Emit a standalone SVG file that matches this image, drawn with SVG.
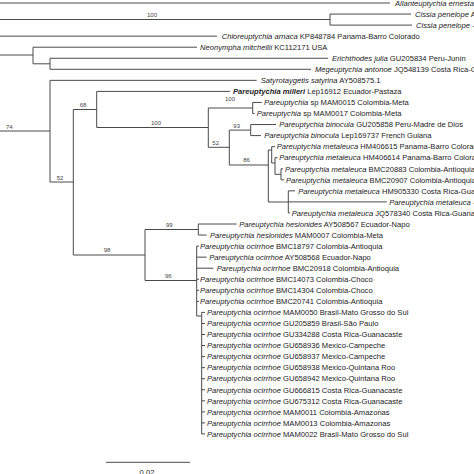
<svg xmlns="http://www.w3.org/2000/svg" width="474" height="474" viewBox="0 0 474 474">
<style>
.b{fill:none;stroke:#4a4a4a;stroke-width:1}
.t{font-family:"Liberation Sans",Arial,sans-serif;font-size:7.6px;fill:#222}
.i{font-style:italic}
.bs{font-family:"Liberation Sans",Arial,sans-serif;font-size:6px;fill:#444;text-anchor:middle}
</style>
<rect width="474" height="474" fill="#fff"/>
<g id="connectors" class="b">
<path d="M0 3H390"/>
<path d="M0 19.5H330M330 14.05V25.1M330 14.05H411M330 25.1H412"/>
<path d="M0 36.15H217"/>
<path d="M0 55H33M33 47.2V63.8M33 47.2H197M33 63.8H50M50 58.25V69.3M50 58.25H328M50 69.3H311"/>
<path d="M0 131H50M50 80.35V182M50 80.35H256.7M50 182H73.3"/>
<path d="M73.3 109.5V255M73.3 109.5H96.7M96.7 91.4V127.5M96.7 91.4H230M96.7 127.5H208.3"/>
<path d="M208.3 108V147.3M208.3 108H252.7M252.7 102.45V113.5M252.7 102.45H261.7M252.7 113.5H254.5"/>
<path d="M208.3 147.3H229.3M229.3 130.1V165M229.3 130.1H250.7M250.7 124.55V135.6M250.7 124.55H276M250.7 135.6H261"/>
<path d="M229.3 165H268.3M268.3 150V202M268.3 150H271.7M271.7 146.65V163M271.7 146.65H275M271.7 163H275M275 157.7V174.3M275 157.7H277.5M275 174.3H281M281 168.75V179.8M281 168.75H283M281 179.8H284"/>
<path d="M268.3 202H288.3M288.3 190.85V212.95M288.3 190.85H295M288.3 201.9H386.7M288.3 212.95H290"/>
<path d="M73.3 255H145M145 229.5V280.5M145 229.5H198.3M198.3 224V235.05M198.3 224H236.7M198.3 235.05H206.7"/>
<path d="M145 280.5H196.7M196.7 246.1V316M196.7 246.1H199M196.7 257.15H206.7M196.7 268.2H213.3M196.7 279.25H199M196.7 290.3H199M196.7 301.35H199M196.7 316H201.7M201.7 312.4V434"/>
<path d="M201.7 312.4H205M201.7 323.45H205M201.7 334.5H205M201.7 345.55H205M201.7 356.6H205M201.7 367.65H205M201.7 378.7H205M201.7 389.75H205M201.7 400.8H205M201.7 411.85H205M201.7 422.9H205M201.7 433.95H205"/>
<path d="M106 462.3H190"/>
</g>
<g id="support">
<text class="bs" x="152" y="16.5">100</text>
<text class="bs" x="9.3" y="128.5">74</text>
<text class="bs" x="83" y="106.5">68</text>
<text class="bs" x="156" y="124.5">100</text>
<text class="bs" x="230" y="100.5">100</text>
<text class="bs" x="236.7" y="127.5">93</text>
<text class="bs" x="215.7" y="144.5">52</text>
<text class="bs" x="246.5" y="162">86</text>
<text class="bs" x="60" y="179.5">52</text>
<text class="bs" x="169.3" y="226.5">99</text>
<text class="bs" x="107" y="251.5">98</text>
<text class="bs" x="168.3" y="278">96</text>
</g>
<g id="n0"><text class="t" x="395" y="5.7"><tspan class="i">Allanteuptychia ernesta</tspan></text></g>
<g id="n1"><text class="t" x="415" y="16.8"><tspan class="i">Cissia penelope</tspan> A</text></g>
<g id="n2"><text class="t" x="416" y="27.8"><tspan class="i">Cissia penelope</tspan> -</text></g>
<g id="n3"><text class="t" x="221.7" y="38.9"><tspan class="i">Chloreuptychia arnaca</tspan> KP848784 Panama-Barro Colorado</text></g>
<g id="n4"><text class="t" x="200" y="49.9"><tspan class="i">Neonympha mitchellii</tspan> KC112171 USA</text></g>
<g id="n5"><text class="t" x="332" y="61"><tspan class="i">Erichthodes julia</tspan> GU205834 Peru-Junín</text></g>
<g id="n6"><text class="t" x="315" y="72"><tspan class="i">Megeuptychia antonoe</tspan> JQ548139 Costa Rica-Guanacaste</text></g>
<g id="n7"><text class="t" x="260.7" y="83.1"><tspan class="i">Satyrotaygetis satyrina</tspan> AY508575.1</text></g>
<g id="n8"><text class="t" x="233" y="94.1"><tspan class="i" font-weight="bold">Pareuptychia milleri</tspan> Lep16912 Ecuador-Pastaza</text></g>
<g id="n9"><text class="t" x="264" y="105.2"><tspan class="i">Pareuptychia</tspan> sp MAM0015 Colombia-Meta</text></g>
<g id="n10"><text class="t" x="256.7" y="116.2"><tspan class="i">Pareuptychia</tspan> sp MAM0017 Colombia-Meta</text></g>
<g id="n11"><text class="t" x="279.3" y="127.3"><tspan class="i">Pareuptychia binocula</tspan> GU205858 Peru-Madre de Dios</text></g>
<g id="n12"><text class="t" x="264.3" y="138.3"><tspan class="i">Pareuptychia binocula</tspan> Lep169737 French Guiana</text></g>
<g id="n13"><text class="t" x="276.7" y="149.4"><tspan class="i">Pareuptychia metaleuca</tspan> HM406615 Panama-Barro Colorado</text></g>
<g id="n14"><text class="t" x="279.3" y="160.4"><tspan class="i">Pareuptychia metaleuca</tspan> HM406614 Panama-Barro Colorado</text></g>
<g id="n15"><text class="t" x="285" y="171.5"><tspan class="i">Pareuptychia metaleuca</tspan> BMC20883 Colombia-Antioquia</text></g>
<g id="n16"><text class="t" x="286" y="182.5"><tspan class="i">Pareuptychia metaleuca</tspan> BMC20907 Colombia-Antioquia</text></g>
<g id="n17"><text class="t" x="298.3" y="193.6"><tspan class="i">Pareuptychia metaleuca</tspan> HM905330 Costa Rica-Guanacaste</text></g>
<g id="n18"><text class="t" x="389.3" y="204.6"><tspan class="i">Pareuptychia metaleuca</tspan> -</text></g>
<g id="n19"><text class="t" x="291.7" y="215.7"><tspan class="i">Pareuptychia metaleuca</tspan> JQ578340 Costa Rica-Guanacaste</text></g>
<g id="n20"><text class="t" x="239.3" y="226.7"><tspan class="i">Pareuptychia hesionides</tspan> AY508567 Ecuador-Napo</text></g>
<g id="n21"><text class="t" x="210" y="237.8"><tspan class="i">Pareuptychia hesionides</tspan> MAM0007 Colombia-Meta</text></g>
<g id="n22"><text class="t" x="200" y="248.8"><tspan class="i">Pareuptychia ocirrhoe</tspan> BMC18797 Colombia-Antioquia</text></g>
<g id="n23"><text class="t" x="209.3" y="259.9"><tspan class="i">Pareuptychia ocirrhoe</tspan> AY508568 Ecuador-Napo</text></g>
<g id="n24"><text class="t" x="216.7" y="270.9"><tspan class="i">Pareuptychia ocirrhoe</tspan> BMC20918 Colombia-Antioquia</text></g>
<g id="n25"><text class="t" x="200" y="282"><tspan class="i">Pareuptychia ocirrhoe</tspan> BMC14073 Colombia-Choco</text></g>
<g id="n26"><text class="t" x="200" y="293"><tspan class="i">Pareuptychia ocirrhoe</tspan> BMC14304 Colombia-Choco</text></g>
<g id="n27"><text class="t" x="200" y="304.1"><tspan class="i">Pareuptychia ocirrhoe</tspan> BMC20741 Colombia-Antioquia</text></g>
<g id="n28"><text class="t" x="207" y="315.1"><tspan class="i">Pareuptychia ocirrhoe</tspan> MAM0050 Brasil-Mato Grosso do Sul</text></g>
<g id="n29"><text class="t" x="207" y="326.2"><tspan class="i">Pareuptychia ocirrhoe</tspan> GU205859 Brasil-São Paulo</text></g>
<g id="n30"><text class="t" x="207" y="337.2"><tspan class="i">Pareuptychia ocirrhoe</tspan> GU334288 Costa Rica-Guanacaste</text></g>
<g id="n31"><text class="t" x="207" y="348.3"><tspan class="i">Pareuptychia ocirrhoe</tspan> GU658936 Mexico-Campeche</text></g>
<g id="n32"><text class="t" x="207" y="359.3"><tspan class="i">Pareuptychia ocirrhoe</tspan> GU658937 Mexico-Campeche</text></g>
<g id="n33"><text class="t" x="207" y="370.4"><tspan class="i">Pareuptychia ocirrhoe</tspan> GU658938 Mexico-Quintana Roo</text></g>
<g id="n34"><text class="t" x="207" y="381.4"><tspan class="i">Pareuptychia ocirrhoe</tspan> GU658942 Mexico-Quintana Roo</text></g>
<g id="n35"><text class="t" x="207" y="392.5"><tspan class="i">Pareuptychia ocirrhoe</tspan> GU666815 Costa Rica-Guanacaste</text></g>
<g id="n36"><text class="t" x="207" y="403.5"><tspan class="i">Pareuptychia ocirrhoe</tspan> GU675312 Costa Rica-Guanacaste</text></g>
<g id="n37"><text class="t" x="207" y="414.6"><tspan class="i">Pareuptychia ocirrhoe</tspan> MAM0011 Colombia-Amazonas</text></g>
<g id="n38"><text class="t" x="207" y="425.6"><tspan class="i">Pareuptychia ocirrhoe</tspan> MAM0013 Colombia-Amazonas</text></g>
<g id="n39"><text class="t" x="207" y="436.7"><tspan class="i">Pareuptychia ocirrhoe</tspan> MAM0022 Brasil-Mato Grosso do Sul</text></g>
<g id="scale"><text class="t" x="147" y="474.5" text-anchor="middle">0.02</text></g>
</svg>
